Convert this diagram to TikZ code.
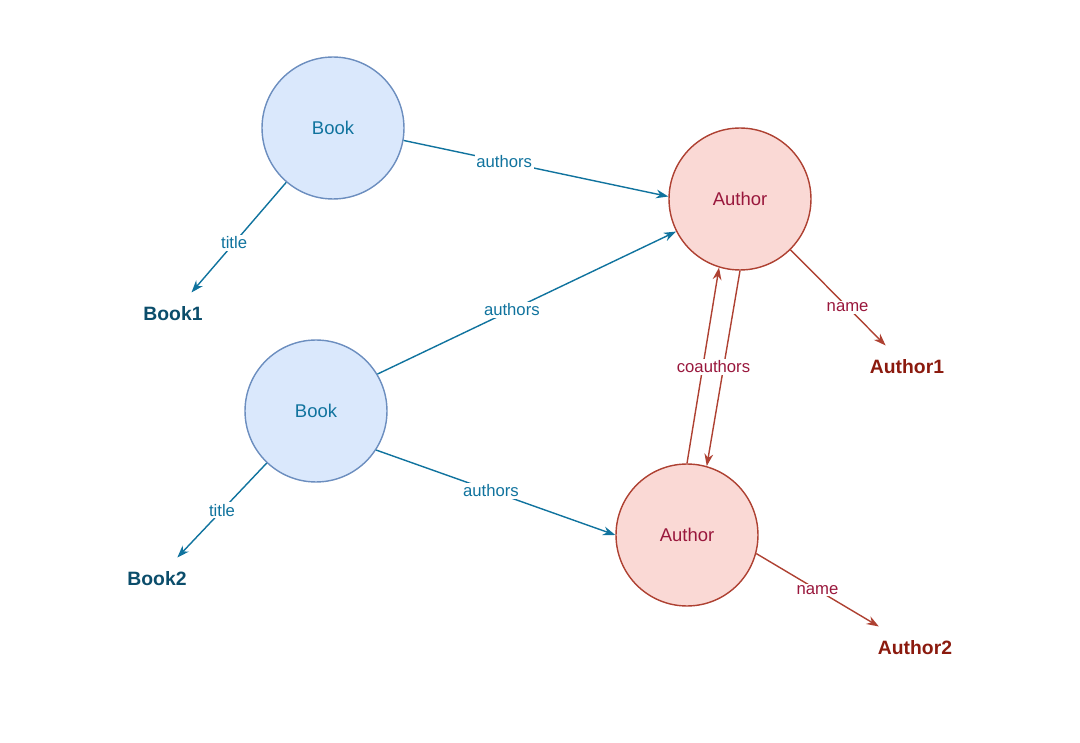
\documentclass[tikz,border=0pt]{standalone}
\usepackage{fontspec}
\setmainfont{Liberation Sans}
\usetikzlibrary{arrows.meta}
\definecolor{bfill}{HTML}{DAE8FC}
\definecolor{bline}{HTML}{6C8EBF}
\definecolor{bedge}{HTML}{10739E}
\definecolor{btext}{HTML}{0B4D6B}
\definecolor{rfill}{HTML}{FAD9D5}
\definecolor{rline}{HTML}{AE4132}
\definecolor{rtext}{HTML}{99173C}
\definecolor{rbold}{HTML}{8B1A0E}
\begin{document}
\begin{tikzpicture}[x=0.02cm,y=-0.02cm,
  book/.style={circle,draw=bline,fill=bfill,line width=0.8pt,minimum size=2.84cm,text=bedge,font=\fontsize{10.5}{12}\selectfont},
  author/.style={circle,draw=rline,fill=rfill,line width=0.8pt,minimum size=2.84cm,text=rtext,font=\fontsize{10.5}{12}\selectfont},
  val/.style={font=\bfseries\fontsize{11}{13}\selectfont,inner sep=8pt},
  bedg/.style={draw=bedge,line width=0.8pt,-{Stealth[length=7pt,width=5pt]}},
  redg/.style={draw=rline,line width=0.8pt,-{Stealth[length=7pt,width=5pt]}},
  blab/.style={fill=white,text=bedge,inner sep=1pt,font=\fontsize{9.5}{11}\selectfont},
  rlab/.style={fill=white,text=rtext,inner sep=1pt,font=\fontsize{9.5}{11}\selectfont}]
\useasboundingbox (0,0) rectangle (1080,743);

\node[book] (b1) at (333,128) {Book};
\node[book] (b2) at (316,411) {Book};
\node[author] (a1) at (740,199) {Author};
\node[author] (a2) at (687,535) {Author};

\node[val,text=btext] (t1) at (173,314) {Book1};
\node[val,text=btext] (t2) at (157,579) {Book2};
\node[val,text=rbold] (n1) at (907,367) {Author1};
\node[val,text=rbold] (n2) at (915,648) {Author2};

% authors
\draw[bedg] (b1.-10) -- node[blab,pos=0.38] {authors} (a1.178);
\draw[bedg] (b2.31) -- node[blab,pos=0.45] {authors} (a1.207);
\draw[bedg] (b2.-33) -- node[blab,pos=0.48] {authors} (a2.180);

% titles
\draw[bedg] (b1) -- node[blab,pos=0.55] {title} (t1);
\draw[bedg] (b2) -- node[blab,pos=0.5] {title} (t2);

% names
\draw[redg] (a1) -- node[rlab,pos=0.6] {name} (n1);
\draw[redg] (a2.-15) -- node[rlab,pos=0.5] {name} (n2);

% coauthors
\draw[redg] (a2.90) -- (a1.-107);
\draw[redg] (a1.-90) -- (a2.74);
\path (a1.-98) -- node[rlab] {coauthors} (a2.82);
\end{tikzpicture}
\end{document}
